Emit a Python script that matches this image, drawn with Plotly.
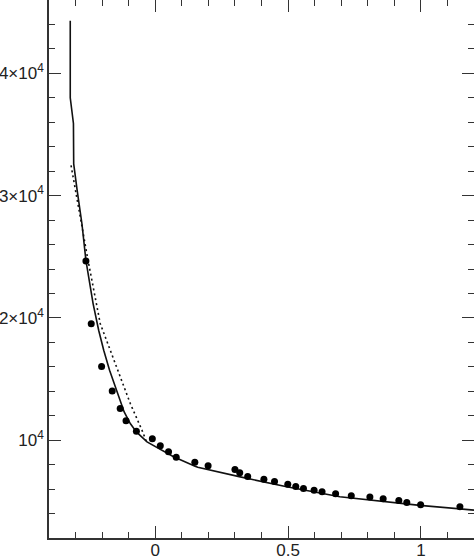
import plotly.graph_objects as go

# Observed data points
obs_x = [-0.261, -0.241, -0.202, -0.162, -0.132, -0.110, -0.071, -0.011, 0.019,
         0.050, 0.079, 0.149, 0.199, 0.300, 0.318, 0.348, 0.409, 0.449, 0.499,
         0.529, 0.558, 0.598, 0.628, 0.679, 0.738, 0.808, 0.858, 0.917, 0.947,
         0.999, 1.147]
obs_y = [24650, 19530, 16020, 14030, 12590, 11580, 10735, 10110, 9535,
         9045, 8610, 8200, 7900, 7605, 7330, 7030, 6810, 6625, 6405,
         6215, 6050, 5915, 5775, 5610, 5450, 5345, 5205, 5075, 4910,
         4715, 4550]

# Solid model curve
model_x = [-0.320, -0.320, -0.308, -0.307, -0.294, -0.276, -0.261, -0.247, -0.234,
           -0.213, -0.194, -0.172, -0.150, -0.132, -0.117, -0.094, -0.071, -0.031,
           0.019, 0.069, 0.150, 0.160, 0.320, 0.495, 0.695, 0.996, 1.200]
model_y = [44300, 38000, 35900, 32600, 30430, 27700, 24700, 22800, 21170,
           18990, 17350, 15720, 14350, 13270, 12310, 11360, 10680, 9860,
           9260, 8640, 7870, 7780, 7000, 6185, 5370, 4665, 4280]

# Dotted alternative curve
alt_x = [-0.317, -0.294, -0.270, -0.253, -0.207, -0.147, -0.094, -0.050, -0.030]
alt_y = [32470, 29600, 26610, 24700, 19530, 15990, 13000, 10820, 9700]

x_tickvals = [0, 0.5, 1]
x_ticktext = ["0", "0.5", "1"]
y_tickvals = [10000, 20000, 30000, 40000]
y_ticktext = ["10<sup>4</sup>", "2×10<sup>4</sup>", "3×10<sup>4</sup>", "4×10<sup>4</sup>"]

fig = go.Figure()
fig.add_trace(go.Scatter(x=model_x, y=model_y, mode="lines",
                         line=dict(color="#111111", width=1.6), showlegend=False))
fig.add_trace(go.Scatter(x=alt_x, y=alt_y, mode="lines",
                         line=dict(color="#111111", width=1.6, dash="2px,3px"), showlegend=False))
fig.add_trace(go.Scatter(x=obs_x, y=obs_y, mode="markers",
                         marker=dict(color="#000000", size=7), showlegend=False))

axis_common = dict(
    showgrid=False, zeroline=False, showline=True, linecolor="#333333", linewidth=1.6,
    mirror="allticks", ticks="inside", ticklen=12, tickwidth=1.4, tickcolor="#333333",
    automargin=False,
    tickfont=dict(family="Liberation Sans, Arial, sans-serif", size=17, color="#222222"),
)

fig.update_layout(
    width=474, height=557,
    margin=dict(l=49, r=0, t=0, b=19, autoexpand=False),
    paper_bgcolor="white", plot_bgcolor="white",
    xaxis=dict(range=[-0.4, 1.2], tickmode="array", tickvals=x_tickvals, ticktext=x_ticktext,
               minor=dict(ticks="inside", ticklen=6, dtick=0.1, tick0=0, tickcolor="#333333", tickwidth=1.4),
               ticklabelstandoff=-4, **axis_common),
    yaxis=dict(range=[2000, 46000], tickmode="array", tickvals=y_tickvals, ticktext=y_ticktext,
               minor=dict(ticks="inside", ticklen=6, dtick=2000, tick0=0, tickcolor="#333333", tickwidth=1.4),
               ticklabelstandoff=0, **axis_common),
)

fig.write_html("out.html", config={"displayModeBar": False},
               post_script="document.body.style.margin='0';document.body.style.overflow='hidden';")
